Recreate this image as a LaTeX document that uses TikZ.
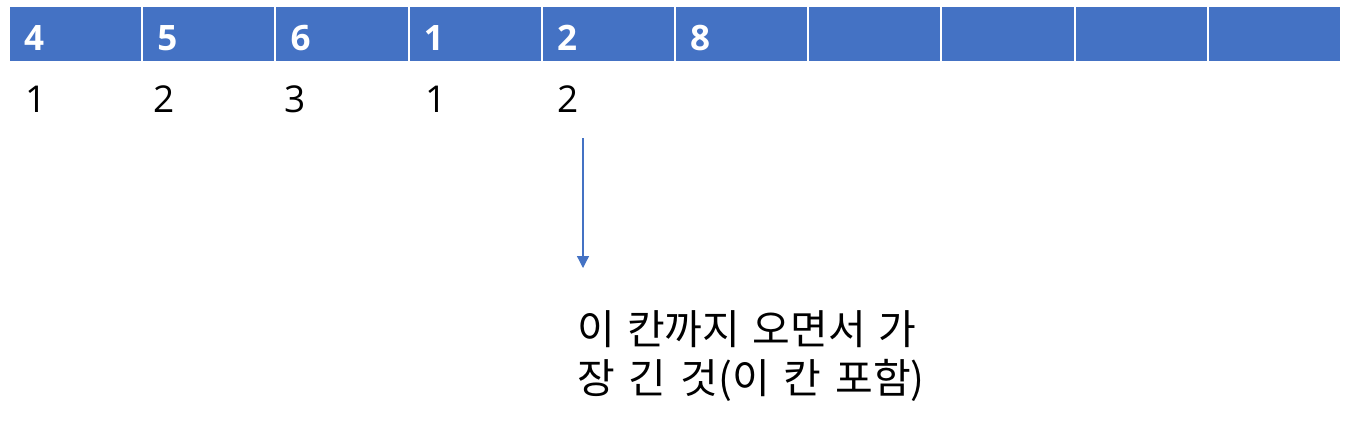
\documentclass[tikz,border=0pt]{standalone}
\usepackage{fontspec}
\setmainfont{Open Sans}
\newfontfamily\kofont{Noto Sans CJK KR}
\usetikzlibrary{arrows.meta}
\definecolor{cellblue}{HTML}{4472C4}
\tikzset{
  cellbox/.style={fill=cellblue, draw=white, line width=2pt, minimum width=133.2pt, minimum height=56pt, inner sep=0pt, outer sep=0pt},
  celltext/.style={anchor=base west, inner sep=0pt, text=white, font=\fontsize{35}{35}\selectfont\bfseries},
  lentext/.style={anchor=base west, inner sep=0pt, text=black, font=\fontsize{37}{37}\selectfont},
  notetext/.style={anchor=north west, inner sep=0pt, align=left, font=\kofont\fontsize{41}{49}\selectfont},
  ptr/.style={draw=cellblue, line width=1.3pt, -{Triangle[width=12pt,length=12pt]}}
}
\begin{document}
\begin{tikzpicture}[x=1pt,y=-1pt]
\useasboundingbox (0,0) rectangle (1346,424);
\foreach \i in {1,...,10} {
  \node[cellbox] (c\i) at ({9+133.2*(\i-0.5)},34) {};
}
\node[celltext] (v1) at (24,50) {4};
\node[celltext] (v2) at (157.2,50) {5};
\node[celltext] (v3) at (290.4,50) {6};
\node[celltext] (v4) at (423.6,50) {1};
\node[celltext] (v5) at (556.8,50) {2};
\node[celltext] (v6) at (690,50) {8};
\node[lentext] (l1) at (25,112) {1};
\node[lentext] (l2) at (153,112) {2};
\node[lentext] (l3) at (284,112) {3};
\node[lentext] (l4) at (425,112) {1};
\node[lentext] (l5) at (557,112) {2};
\coordinate (a1) at (583,138);
\coordinate (a2) at (583,268);
\draw[ptr] (a1) -- (a2);
\node[notetext] (note) at (577,310) {\spaceskip=0.3em\relax 이 칸까지 오면서 가\\\spaceskip=0.34em\relax 장 긴 것(이 칸 포함)};
\end{tikzpicture}
\end{document}
